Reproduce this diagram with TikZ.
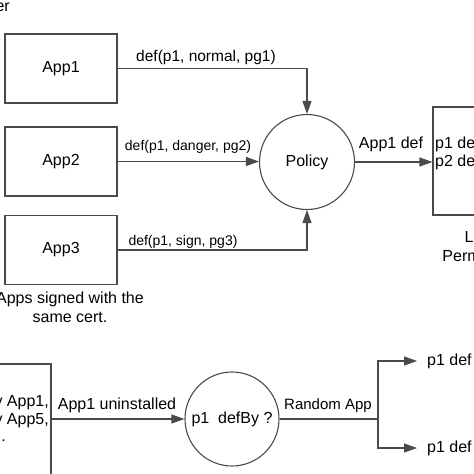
\documentclass[tikz,border=0pt]{standalone}
\usepackage{fontspec}
\setmainfont{Liberation Sans}
\usetikzlibrary{arrows.meta}
\definecolor{lc}{HTML}{4A4A4A}
\begin{document}
\begin{tikzpicture}[x=1pt,y=-1pt,
  every node/.style={font=\fontsize{16}{19}\selectfont, text=black},
  appbox/.style={draw=lc, line width=1.1pt, minimum width=112pt, minimum height=69pt, inner sep=0pt},
  circ/.style={draw=lc, line width=1.1pt, circle, minimum size=95pt, inner sep=0pt},
  conn/.style={draw=lc, line width=1.1pt},
  arr/.style={conn, -{Triangle[length=13pt,width=9pt]}},
  lbl/.style={inner sep=0pt},
  small/.style={inner sep=0pt, font=\fontsize{14}{16}\selectfont},
  outtxt/.style={inner sep=0pt, inner xsep=10pt, anchor=west}
]
\useasboundingbox (0,0) rectangle (474,474);
\fill[white] (0,0) rectangle (474,474);

\node[lbl, anchor=east] (top) at (10,7) {er};

\node[appbox] (app1) at (61,68.5) {App1};
\node[appbox] (app2) at (61,161.5) {App2};
\node[appbox] (app3) at (61,250) {App3};

\node[circ] (policy) at (307,162) {Policy};

\node[draw=lc, line width=1.1pt, minimum width=120pt, minimum height=108pt, inner sep=0pt] (list) at (493,161) {};

\draw[arr] (app1.east) -| (policy.north);
\draw[arr] (app2.east) -- (app2.east -| policy.west);
\draw[arr] (app3.east) -| (policy.south);
\draw[arr] (policy.east) -- (policy.east -| list.west);

\node[lbl, font=\fontsize{15.5}{18}\selectfont] (l1) at (206,57) {def(p1, normal, pg1)};
\node[small] (l2) at (188,147) {def(p1, danger, pg2)};
\node[small] (l3) at (183,242) {def(p1, sign, pg3)};
\node[lbl] (l4) at (391,144) {App1 def};

\node[lbl, anchor=west] (pd1) at (435,144) {p1 def};
\node[lbl, anchor=west] (pd2) at (435,162) {p2 def};

\node[lbl, align=center] (lp) at (486,246) {List of\\Permissions};

\node[lbl, align=center] (cert) at (70,307.5) {Apps signed with the\\same cert.};

% bottom part
\node[draw=lc, line width=1.1pt, minimum width=111pt, minimum height=136pt, inner sep=0pt] (defbox) at (-4.5,432) {};
\node[lbl, anchor=east] (d1) at (49,402) {by App1,};
\node[lbl, anchor=east] (d2) at (49,420) {by App5,};
\node[lbl, anchor=east] (d3) at (6,441) {...};

\node[circ, minimum size=94pt] (q) at (232,419) {p1\ \ defBy ?};

\draw[arr] (q.west -| defbox.east) -- (q.west);
\node[lbl] (l5) at (117,405) {App1 uninstalled};

\coordinate (split) at (378,419);
\draw[conn] (q.east) -- (split);
\node[lbl, font=\fontsize{15}{18}\selectfont] (l6) at (328,406) {Random App};

\node[outtxt] (o1) at (417,361) {p1 def};
\node[outtxt] (o2) at (417,448) {p1 def};
\draw[arr] (split) |- (o1.west);
\draw[arr] (split) |- (o2.west);
\end{tikzpicture}
\end{document}
